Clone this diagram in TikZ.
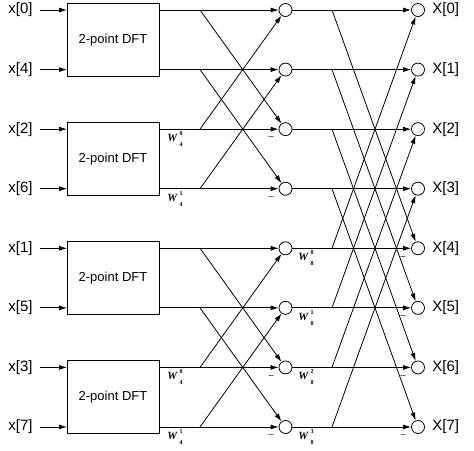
\documentclass[tikz,border=0pt]{standalone}
\usepackage{fontspec}
\setmainfont{Liberation Sans}
\newfontfamily\wfont{Liberation Serif}
\usetikzlibrary{arrows.meta}

\newcommand\twid[2]{W\kern2.5pt\upshape\rlap{\raisebox{6pt}{\fontsize{6}{6}\selectfont#2}}%
  \raisebox{-5pt}{\fontsize{6}{6}\selectfont#1}}

\begin{document}
\begin{tikzpicture}[x=1pt,y=-1pt,line width=0.8pt,
    sig/.style={-{Latex[length=8pt,width=5pt]}},
    dft/.style={draw,minimum width=92pt,minimum height=73pt,inner sep=0pt,
      font=\fontsize{13}{15}\selectfont},
    sum/.style={draw,circle,minimum size=13pt,inner sep=0pt},
    lbl/.style={inner sep=0pt,font=\fontsize{15}{17}\selectfont},
    tw/.style={inner sep=0pt,font=\wfont\bfseries\itshape\fontsize{11}{11}\selectfont},
    neg/.style={inner sep=0pt,font=\fontsize{9}{9}\selectfont}]
  \useasboundingbox (0,0) rectangle (474,450);

  % the four 2-point DFT blocks
  \foreach \k in {0,...,3}
    \node[dft] (b\k) at (113,{39.8+119.14*\k}) {2-point DFT};

  % rows, top to bottom
  \foreach \r/\n in {0/0,1/4,2/2,3/6,4/1,5/5,6/3,7/7} {
    \node[lbl,anchor=east] (x\r) at (33,{10+59.57*\r}) {x[\n]};
    \coordinate (i\r) at (40,{10+59.57*\r});
    \coordinate (p\r) at (67,{10+59.57*\r});
    \coordinate (q\r) at (159,{10+59.57*\r});
    \coordinate (t\r) at (200,{10+59.57*\r});
    \node[sum] (s\r) at (285.5,{10+59.57*\r}) {};
    \coordinate (u\r) at (332,{10+59.57*\r});
    \node[sum] (o\r) at (418,{10+59.57*\r}) {};
    \node[lbl,anchor=west] (X\r) at (432,{10+59.57*\r}) {X[\r]};
    \draw[sig] (i\r) -- (p\r);
    \draw[sig] (q\r) -- (s\r);
    \draw[sig] (s\r) -- (o\r);
  }

  % first stage butterflies
  \foreach \a/\b in {0/2,1/3,4/6,5/7} {
    \draw[sig] (t\a) -- (s\b);
    \draw[sig] (t\b) -- (s\a);
  }

  % second stage butterflies
  \foreach \a in {0,...,3} {
    \pgfmathtruncatemacro\b{\a+4}
    \draw[sig] (u\a) -- (o\b);
    \draw[sig] (u\b) -- (o\a);
  }

  % twiddle factors
  \foreach \r/\e in {2/0,3/1,6/0,7/1}
    \node[tw] (w\r) at (175,{20+59.57*\r}) {\twid{4}{\e}};
  \foreach \r/\e in {4/0,5/1,6/2,7/3}
    \node[tw] (v\r) at (306,{20+59.57*\r}) {\twid{8}{\e}};

  % minus signs
  \foreach \r in {2,3,6,7}
    \node[neg] (m\r) at (271,{19.5+59.57*\r}) {--};
  \foreach \r in {4,...,7}
    \node[neg] (n\r) at (403,{19.5+59.57*\r}) {--};
\end{tikzpicture}
\end{document}
